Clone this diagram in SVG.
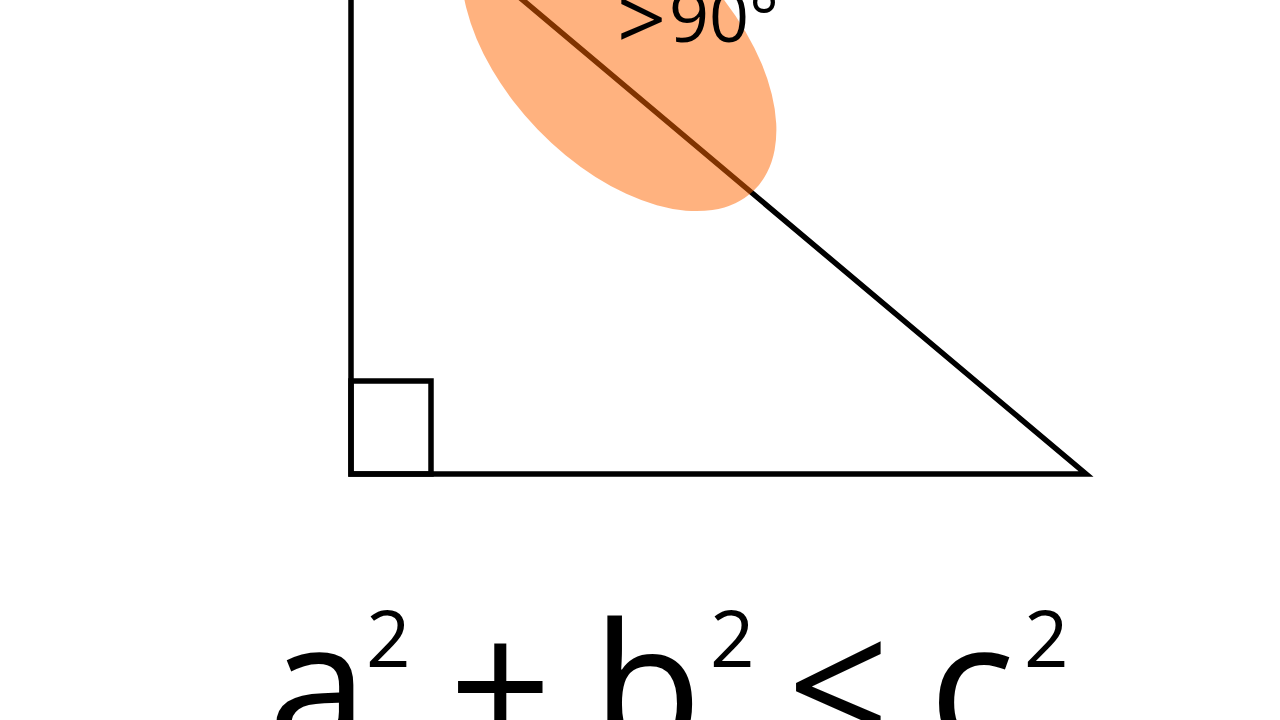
<svg xmlns="http://www.w3.org/2000/svg" width="1280" height="720" viewBox="0 0 1280 720">
<style>
.ln{fill:none;stroke:#000;stroke-width:5.5;stroke-linejoin:miter;stroke-miterlimit:10}
.t{font-family:"Open Sans","Liberation Sans",sans-serif;fill:#000}
</style>
<rect width="1280" height="720" fill="#fff"/>
<g id="triangle">
<path class="ln" d="M351,-20 L351,474 L1086,474 L499,-20"/>
<rect class="ln" x="351" y="381" width="80" height="93"/>
</g>
<g id="angle-mark">
<ellipse cx="619" cy="51" rx="194" ry="113" transform="rotate(46 619 51)" fill="#FF6600" fill-opacity="0.5"/>
<text class="t" y="42" font-size="70"><tspan x="617" y="50" font-size="86">&gt;</tspan><tspan x="669" y="42">90°</tspan></text>
</g>
<g id="formula" class="t">
<text x="268" y="750" font-size="180">a</text>
<text x="366" y="667" font-size="78">2</text>
<text x="449" y="750" font-size="180">+</text>
<text x="592" y="752" font-size="180">b</text>
<text x="710" y="667" font-size="78">2</text>
<text x="787" y="750" font-size="180">&lt;</text>
<text x="929" y="750" font-size="180">c</text>
<text x="1024" y="667" font-size="78">2</text>
</g>
</svg>
